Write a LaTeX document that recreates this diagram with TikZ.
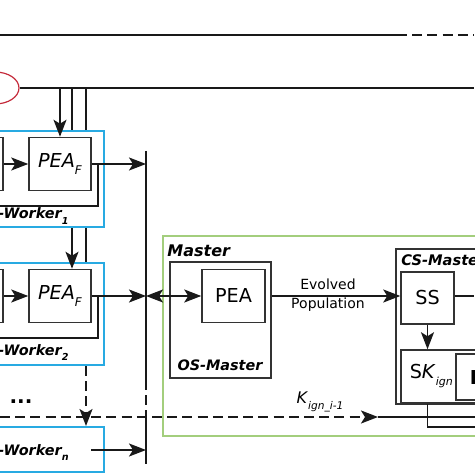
\documentclass[tikz,border=0pt]{standalone}
\usepackage{fontspec}
\setmainfont{DejaVu Sans}
\usetikzlibrary{arrows.meta,shapes.geometric}
\definecolor{workblue}{RGB}{40,170,226}
\definecolor{mastergreen}{RGB}{163,206,125}
\definecolor{ringred}{RGB}{196,42,58}
\newcommand{\lowsub}[2][5]{\raisebox{-0.35em}{\fontsize{#1}{#1}\selectfont #2}}

\begin{document}
\begin{tikzpicture}[x=0.5pt, y=-0.5pt, >={Stealth[length=8.5pt, width=6.5pt, inset=2pt]}]
		\tikzset{
		    conn/.style= {line width=0.95pt, black!90},
		    dsh/.style= {conn, dash pattern=on 5pt off 2.6pt},
		    blk/.style= {draw=black!80, line width=0.75pt, fill=white, inner sep=0pt, font=\fontsize{9.6}{11}\selectfont},
		    wbox/.style= {draw=workblue, line width=1pt, fill=white, minimum width=54.5pt},
		    mbox/.style= {draw=mastergreen, line width=1pt, minimum width=163.5pt, minimum height=100pt},
		    tag/.style= {font=\fontsize{7.2}{8}\selectfont\bfseries\itshape, inner sep=0pt},
		    plain/.style= {font=\fontsize{7}{9.5}\selectfont, inner sep=0pt, align=center},
		}
		\useasboundingbox (0,0) rectangle (474,474);
		
		% top lines
		\coordinate (top0) at (0,35);
		\coordinate (topd) at (397,35);
		\coordinate (top1) at (474,35);
		\draw[conn] (top0) -- (topd);
		\draw[dsh] (topd) -- (top1);
		
		\node[ellipse, draw=ringred, line width=0.6pt, minimum width=24pt, minimum height=16pt] (ring) at (-5,88) {};
		\coordinate (feed) at (474,88);
		\draw[conn] (ring.east) -- (ring.east -| feed);
		
		% workers 2 and n
		\node[wbox, minimum height=51pt] (w2) at (49.5,314) {};
		\node[blk, minimum width=31pt, minimum height=26.5pt] (pf2) at (60,296) {\textit{PEA}\lowsub[6]{\textit{F}}};
		\node[blk, minimum width=11.5pt, minimum height=26.5pt] (in2) at (-8.5,296) {};
		\node[wbox, minimum height=22.5pt] (wn) at (49.5,449.5) {};
		
		\coordinate (c72) at (72,88);
		\coordinate (c86) at (86,88);
		\draw[conn, ->] (c72) -- (c72 |- pf2.north);
		\draw[conn] (c86) -- (c86 |- w2.north);
		
		% worker 1
		\node[wbox, minimum height=48pt] (w1) at (49.5,179) {};
		\node[blk, minimum width=31pt, minimum height=26.5pt] (pf1) at (60,164) {\textit{PEA}\lowsub[6]{\textit{F}}};
		\node[blk, minimum width=11.5pt, minimum height=26.5pt] (in1) at (-8.5,164) {};
		\draw[conn, ->] (pf1.north |- ring.east) -- (pf1.north);
		
		\draw[conn, ->] (in1) -- (pf1);
		\draw[conn, ->] (in2) -- (pf2);
		
		% bus
		\coordinate (bus0) at (146,151);
		\coordinate (busd) at (146,380);
		\coordinate (busk) at (146,420);
		\coordinate (bus1) at (146,464);
		\draw[conn] (bus0) -- (busd);
		\draw[dsh] (busd) -- (busk);
		\draw[conn] (busk) -- (bus1);
		
		\draw[conn, ->] (pf1) -- (pf1 -| bus0);
		\draw[conn, ->] (pf2) -- (pf2 -| bus0);
		\coordinate (fb1) at (98,206);
		\coordinate (fb2) at (98,338);
		\draw[conn] (pf1 -| fb1) -- (fb1) -- (fb1 -| in1.center);
		\draw[conn] (pf2 -| fb2) -- (fb2) -- (fb2 -| in2.center);
		
		\node[tag, anchor=base west] (lw1) at (-2,219) {-Worker\lowsub[4.8]{1}};
		\node[tag, anchor=base west] (lw2) at (-2,355) {-Worker\lowsub[4.8]{2}};
		\node[tag, anchor=base west] (lwn) at (-2,455) {-Worker\lowsub[4.8]{n}};
		\node[font=\fontsize{10}{12}\selectfont\bfseries, inner sep=0pt] (dots) at (21,402) {...};
		
		\coordinate (wo) at (91,450);
		\draw[conn, ->] (wo) -- (wo -| bus0);
		\draw[dsh, ->] (c86 |- w2.south) -- (c86 |- wn.north);
		
		% master
		\node[mbox] (mst) at (326.5,336) {};
		\node[tag, font=\fontsize{8}{9}\selectfont\bfseries\itshape, anchor=west] (mlbl) at (167,251) {Master};
		\node[blk, minimum width=50.5pt, minimum height=58pt] (osm) at (220.5,320) {};
		\node[blk, minimum width=31.5pt, minimum height=26.5pt] (pea) at (233.5,296) {PEA};
		\node[tag] (olbl) at (220,365) {OS-Master};
		\draw[conn, <->] (pea.west -| bus0) -- (pea.west);
		
		\node[blk, minimum width=52pt, minimum height=77.5pt] (csm) at (448,326.5) {};
		\node[tag, font=\fontsize{7.3}{9}\selectfont\bfseries\itshape, anchor=west] (clbl) at (401,260) {CS-Master};
		\node[blk, minimum width=26.5pt, minimum height=26pt] (ss) at (427.5,298) {SS};
		\node[blk, minimum width=44.5pt, minimum height=26.5pt] (sk) at (445.5,376.5) {};
		\node[blk, minimum width=22pt, minimum height=23pt] (skin) at (478,377) {};
		\node[blk, draw=none, fill=none, anchor=west] (sklbl) at (409,376) {S\textit{K}\lowsub[5.5]{\textit{ign}}};
		\node[blk, draw=none, fill=none, anchor=west] (skinl) at (469,377) {\textbf{K}};
		
		\draw[conn, ->] (pea.east -| osm.east) -- (pea.east -| ss.west);
		\node[plain] (evo) at (328,295) {Evolved\\Population};
		\draw[conn] (ss.east |- pea) -- (feed |- pea);
		\draw[conn, ->] (ss.south) -- (ss.south |- sk.north);
		\coordinate (kout) at (480,427);
		\draw[conn] (ss.south |- sk.south) |- (kout);
		
		% K line
		\coordinate (k0) at (0,417);
		\coordinate (ka) at (378,417);
		\draw[dsh, ->] (k0) -- (ka);
		\draw[conn] (ka) -- (ka -| kout);
		\node[inner sep=0pt, font=\fontsize{8}{9}\selectfont] (klbl) at (320,402) {\textit{K}\lowsub[5.3]{\textit{ign\_i-1}}};
	\end{tikzpicture}
\end{document}
